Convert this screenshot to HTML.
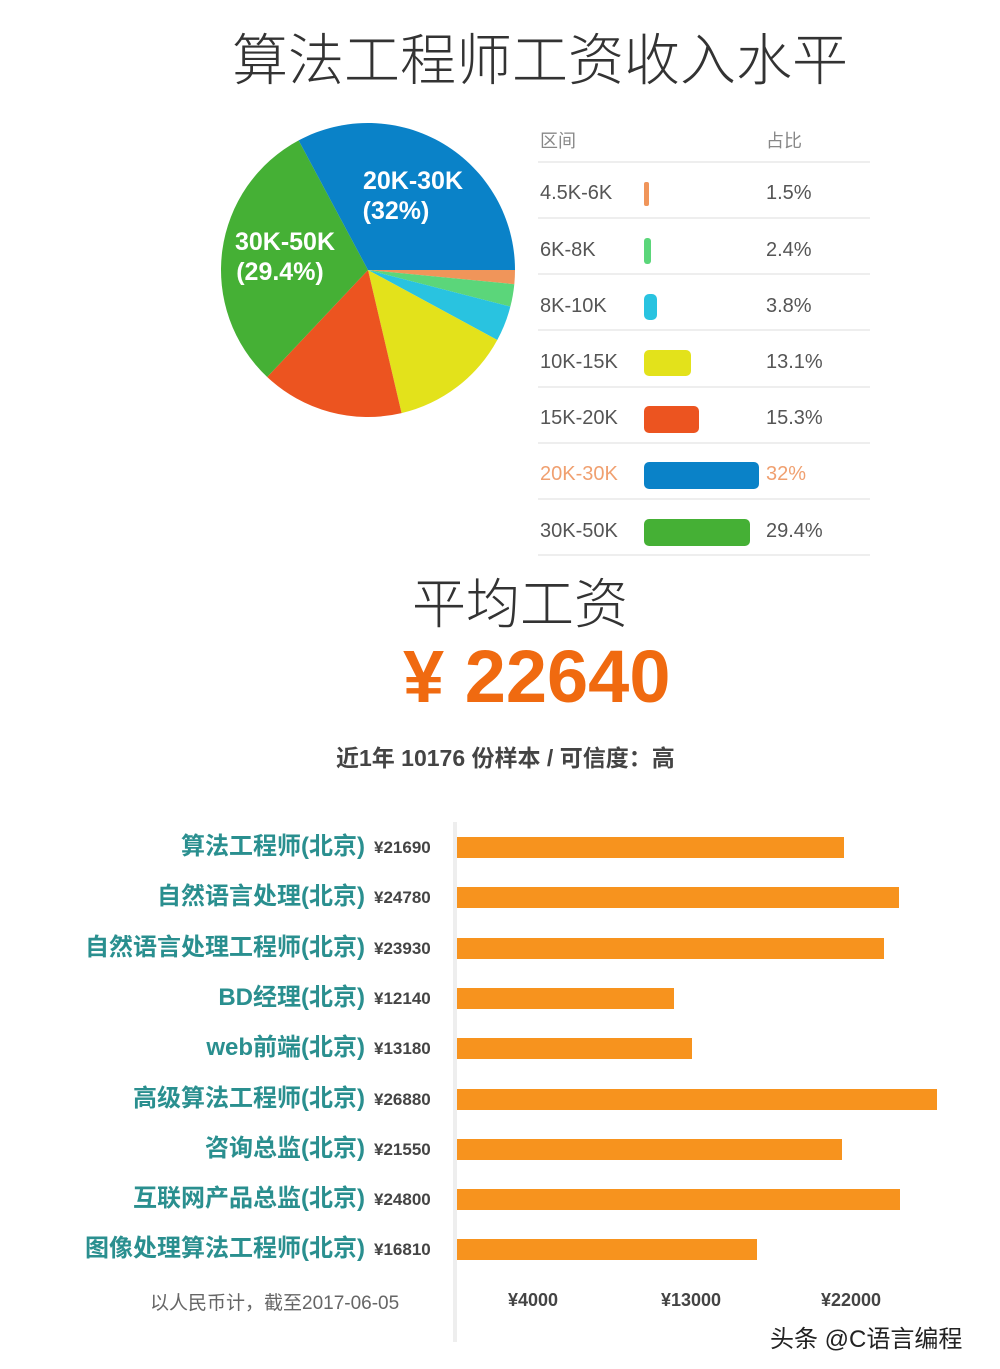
<!DOCTYPE html>
<html><head><meta charset="utf-8"><style>
body{margin:0;background:#fff;}
#c{position:relative;width:1000px;height:1369px;overflow:hidden;background:#fff;font-family:"Liberation Sans","Noto Sans CJK SC",sans-serif;}
.a{position:absolute;white-space:nowrap;}
.t{color:#555;font-size:20px;}
.line{position:absolute;left:538px;width:332px;height:2px;background:#eee;}
.rb{position:absolute;left:644px;border-radius:5px;}
.lab{position:absolute;right:635px;color:#2a8f8f;font-size:24px;line-height:30px;font-weight:bold;text-align:right;}
.val{position:absolute;left:374px;color:#444;font-size:17px;line-height:20px;font-weight:bold;}
.bar{position:absolute;left:457px;height:21px;background:#f7931e;}
.tick{position:absolute;color:#444;font-size:18px;font-weight:bold;top:1290px;}
</style></head><body><div id="c">
<div class="a" style="left:232px;top:16px;font-size:56px;color:#333;font-family:'Noto Sans CJK SC',sans-serif;font-weight:300;">算法工程师工资收入水平</div>
<svg class="a" style="left:0;top:0" width="1000" height="600"><g id="pie"></g>
<text x="413" y="189" fill="#fff" font-size="25" font-weight="bold" text-anchor="middle" font-family="Liberation Sans">20K-30K</text>
<text x="396" y="219" fill="#fff" font-size="25" font-weight="bold" text-anchor="middle" font-family="Liberation Sans">(32%)</text>
<text x="285" y="250" fill="#fff" font-size="25" font-weight="bold" text-anchor="middle" font-family="Liberation Sans">30K-50K</text>
<text x="280" y="280" fill="#fff" font-size="25" font-weight="bold" text-anchor="middle" font-family="Liberation Sans">(29.4%)</text>
</svg>
<div class="a t" style="left:540px;top:127px;color:#888;font-size:18px">区间</div>
<div class="a t" style="left:766px;top:127px;color:#888;font-size:18px">占比</div>
<div class="line" style="top:161px"></div><div class="line" style="top:217px"></div><div class="line" style="top:273px"></div><div class="line" style="top:329px"></div><div class="line" style="top:386px"></div><div class="line" style="top:442px"></div><div class="line" style="top:498px"></div><div class="line" style="top:554px"></div>
<div class="a t" style="left:540px;top:182px">4.5K-6K</div><div class="a t" style="left:766px;top:182px">1.5%</div><div class="rb" style="top:182px;width:5px;height:24px;background:#f0955a;border-radius:2px"></div>
<div class="a t" style="left:540px;top:239px">6K-8K</div><div class="a t" style="left:766px;top:239px">2.4%</div><div class="rb" style="top:238px;width:7px;height:26px;background:#5bd67a;border-radius:3px"></div>
<div class="a t" style="left:540px;top:295px">8K-10K</div><div class="a t" style="left:766px;top:295px">3.8%</div><div class="rb" style="top:294px;width:13px;height:26px;background:#29c3e0"></div>
<div class="a t" style="left:540px;top:351px">10K-15K</div><div class="a t" style="left:766px;top:351px">13.1%</div><div class="rb" style="top:350px;width:47px;height:26px;background:#e3e21b"></div>
<div class="a t" style="left:540px;top:407px">15K-20K</div><div class="a t" style="left:766px;top:407px">15.3%</div><div class="rb" style="top:406px;width:55px;height:27px;background:#ec5420"></div>
<div class="a t" style="left:540px;top:463px;color:#f0a070">20K-30K</div><div class="a t" style="left:766px;top:463px;color:#f0a070">32%</div><div class="rb" style="top:462px;width:115px;height:27px;background:#0a82c8"></div>
<div class="a t" style="left:540px;top:520px">30K-50K</div><div class="a t" style="left:766px;top:520px">29.4%</div><div class="rb" style="top:519px;width:106px;height:27px;background:#45b035"></div>
<div class="a" style="left:412px;top:560px;font-size:54px;color:#333;font-family:'Noto Sans CJK SC',sans-serif;font-weight:300;">平均工资</div>
<div class="a" style="left:403px;top:634px;font-size:74px;color:#f06a10;font-weight:bold;">¥ 22640</div>
<div class="a" style="left:336px;top:739px;font-size:23px;color:#444;font-weight:bold;">近1年 10176 份样本 / 可信度：高</div>
<div class="a" style="left:453px;top:822px;width:4px;height:520px;background:#eee"></div>
<div id="bars"></div>
<div class="a" style="left:150px;top:1288px;font-size:19px;color:#666">以人民币计，截至2017-06-05</div>
<div class="tick" style="left:508px">¥4000</div><div class="tick" style="left:661px">¥13000</div><div class="tick" style="left:821px">¥22000</div>
<div class="a" style="left:770px;top:1319px;font-size:24px;color:#222">头条 @C语言编程</div>
</div>
<script>
var cx=368,cy=270,r=147;
var d=[[1.5,'#f0955a'],[2.4,'#5bd67a'],[3.8,'#29c3e0'],[13.1,'#e3e21b'],[15.3,'#ec5420'],[29.4,'#45b035'],[32,'#0a82c8']];
var tot=97.5,a=0,s='';
d.forEach(function(x){var b=a+x[0]/tot*2*Math.PI;
var x1=cx+r*Math.cos(a),y1=cy+r*Math.sin(a),x2=cx+r*Math.cos(b),y2=cy+r*Math.sin(b);
s+='<path d="M'+cx+','+cy+'L'+x1+','+y1+'A'+r+','+r+' 0 '+(b-a>Math.PI?1:0)+' 1 '+x2+','+y2+'Z" fill="'+x[1]+'"/>';a=b;});
document.getElementById('pie').innerHTML=s;
var rows=[['算法工程师(北京)',21690],['自然语言处理(北京)',24780],['自然语言处理工程师(北京)',23930],['BD经理(北京)',12140],['web前端(北京)',13180],['高级算法工程师(北京)',26880],['咨询总监(北京)',21550],['互联网产品总监(北京)',24800],['图像处理算法工程师(北京)',16810]];
var h='';rows.forEach(function(x,i){var y=847+i*50.3;
h+='<div class="lab" style="top:'+(y-15)+'px">'+x[0]+'</div><div class="val" style="top:'+(y-9)+'px">¥'+x[1]+'</div><div class="bar" style="top:'+(y-10)+'px;width:'+Math.round(x[1]*0.01785)+'px"></div>';});
document.getElementById('bars').innerHTML=h;
</script>
</body></html>
